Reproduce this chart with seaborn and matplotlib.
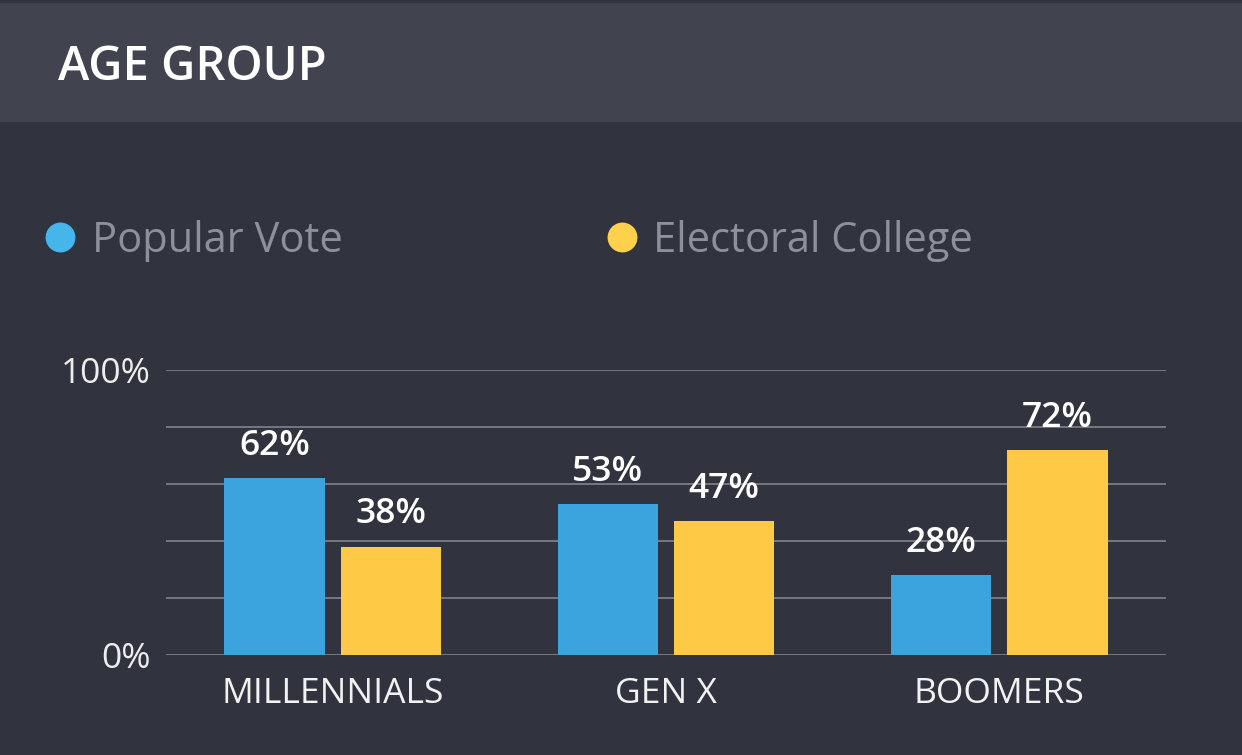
import matplotlib
matplotlib.use("Agg")
import matplotlib.pyplot as plt
from matplotlib.lines import Line2D
from matplotlib.patches import Rectangle
import pandas as pd
import seaborn as sns

# data
groups = ["MILLENNIALS", "GEN X", "BOOMERS"]
popular_vote = [62, 53, 28]
electoral_college = [38, 47, 72]
series_names = ["Popular Vote", "Electoral College"]

bg = "#31343e"
header = "#41444f"
blue = "#3ba4de"
yellow = "#fec945"
grid = "#7c7e86"

df = pd.DataFrame({
    "group": groups * 2,
    "value": popular_vote + electoral_college,
    "series": [series_names[0]] * 3 + [series_names[1]] * 3,
})

sns.set_style("dark")
plt.rcParams["font.family"] = ["Open Sans", "DejaVu Sans"]

fig = plt.figure(figsize=(12.42, 7.55), dpi=100, facecolor=bg)

# header band
fig.patches.append(Rectangle((0, (755 - 122) / 755), 1, 119 / 755,
                             transform=fig.transFigure, facecolor=header,
                             edgecolor="none", zorder=0))
fig.text(58 / 1242, 1 - 67 / 755, "AGE GROUP", color="white", fontsize=34,
         fontweight="semibold", va="center", ha="left")

ax = fig.add_axes([166 / 1242, 100 / 755, 1000 / 1242, 285 / 755])
ax.set_facecolor(bg)

sns.barplot(data=df, x="group", y="value", hue="series",
            palette=[blue, yellow], width=0.7, gap=0.14,
            saturation=1, linewidth=0, ax=ax, legend=False)

ax.set_xlim(-0.5, 2.5)
ax.set_ylim(0, 100)
for y in range(0, 101, 20):
    ax.axhline(y, color=grid, lw=1.3, zorder=0)
ax.set_yticks([0, 100])
ax.set_yticklabels(["0%", "100%"])
ax.tick_params(axis="y", colors="#eeeeee", labelsize=25.5, length=0, pad=11)
ax.tick_params(axis="x", colors="#f2f2f2", labelsize=25.5, length=0, pad=16)
ax.set_xlabel("")
ax.set_ylabel("")
ax.grid(False)
for s in ax.spines.values():
    s.set_visible(False)

for cont in ax.containers:
    ax.bar_label(cont, fmt="%g%%", color="white", fontsize=25.5,
                 fontweight="semibold", padding=11)

handles = [Line2D([], [], marker="o", ls="none", markersize=21.5,
                  markerfacecolor=c, markeredgecolor="none")
           for c in ["#45b6ea", "#fed04c"]]
fig.legend(handles, series_names, loc="center left",
           bbox_to_anchor=(29 / 1242, 1 - 241 / 755), ncol=2, frameon=False,
           fontsize=30, labelcolor="#8d909a", handletextpad=0.41,
           columnspacing=6.35, handlelength=0.7, borderpad=0.4,
           borderaxespad=0)

fig.savefig("out.png", dpi=100, facecolor=bg)
